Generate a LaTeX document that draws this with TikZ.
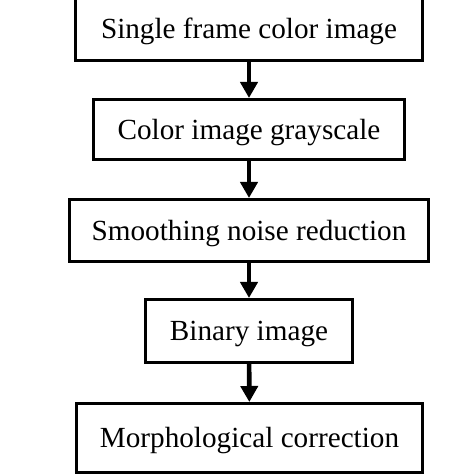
\documentclass[tikz,border=0pt]{standalone}
\usepackage{fontspec}
\setmainfont{Liberation Serif}
\usetikzlibrary{arrows.meta}
\tikzset{
  caja/.style={draw,line width=1.5pt,inner sep=0pt,text height=9.6pt,text depth=0pt,
    font=\fontsize{14.6pt}{17pt}\selectfont},
  flecha/.style={line width=2.3pt,-{Triangle[length=8pt,width=8.5pt]}}
}
\begin{document}
\begin{tikzpicture}[x=0.5pt,y=-0.5pt]
        \useasboundingbox (0,0) rectangle (474,474);
        \clip (0,0) rectangle (474,474);

        % Pasos del proceso
        \node[caja,minimum width=173.5pt,minimum height=32pt] (frame) at (249,29) {Single frame color image};
        \node[caja,minimum width=155.5pt,minimum height=30pt] (gris) at (249,129.5) {Color image grayscale};
        \node[caja,minimum width=179.5pt,minimum height=31pt] (suave) at (249,230.5) {Smoothing noise reduction};
        \node[caja,minimum width=103.5pt,minimum height=31.5pt] (binaria) at (249,331) {Binary image};
        \node[caja,minimum width=173pt,minimum height=34.5pt] (morfo) at (249.5,438) {Morphological correction};

        % Flechas entre pasos
        \draw[flecha] (frame) -- (gris);
        \draw[flecha] (gris) -- (suave);
        \draw[flecha] (suave) -- (binaria);
        \draw[flecha] (binaria) -- (morfo);
\end{tikzpicture}
\end{document}
